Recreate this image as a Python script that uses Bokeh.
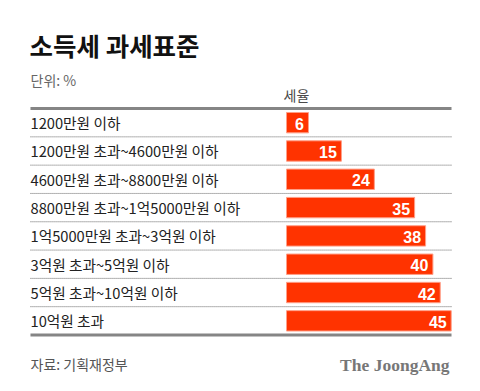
import numpy as np
from bokeh.plotting import figure
from bokeh.models import Range1d, Label, ColumnDataSource
from bokeh.core.properties import value
from bokeh.embed import file_html
from bokeh.resources import INLINE

title = "소득세 과세표준"
unit_text = "단위: %"
header = "세율"
source_text = "자료: 기획재정부"
brand = "The JoongAng"

brackets = [
    "1200만원 이하",
    "1200만원 초과~4600만원 이하",
    "4600만원 초과~8800만원 이하",
    "8800만원 초과~1억5000만원 이하",
    "1억5000만원 초과~3억원 이하",
    "3억원 초과~5억원 이하",
    "5억원 초과~10억원 이하",
    "10억원 초과",
]
rates = [6, 15, 24, 35, 38, 40, 42, 45]

n = len(brackets)
rows = np.arange(n) + 0.5

# layout constants (data extents of the table within a full-canvas frame)
X_START, X_END = -78.14, 53.0
Y_START, Y_END = -3.816, 9.996
X_LEFT, X_RIGHT = -69.95, 45.08

src = ColumnDataSource(dict(
    y=rows, rate=rates, label=brackets, txt=[str(r) for r in rates],
    left=[X_LEFT] * n,
))
sep = np.arange(1, n)
sep_src = ColumnDataSource(dict(y=sep, x0=[X_LEFT] * len(sep), x1=[X_RIGHT] * len(sep)))
edge_src = ColumnDataSource(dict(y=[0, n], x0=[X_LEFT] * 2, x1=[X_RIGHT] * 2))

W, H = 480, 391
p = figure(width=W, height=H, output_backend="svg", toolbar_location=None,
           x_range=Range1d(X_START, X_END), y_range=Range1d(Y_END, Y_START),
           x_axis_location=None, y_axis_location=None,
           min_border=0)
p.grid.visible = False
p.outline_line_color = None
p.background_fill_color = "white"
p.border_fill_color = "white"

p.segment(x0="x0", x1="x1", y0="y", y1="y", source=sep_src,
          line_color="#666666", line_width=1, line_dash="1 1")
p.segment(x0="x0", x1="x1", y0="y", y1="y", source=edge_src,
          line_color="#858585", line_width=3)

p.hbar(y="y", left=0, right="rate", height=0.72, source=src,
       fill_color="#ff3300", line_color="#ff9f88", line_width=1)

p.text(x="left", y="y", text="label", source=src,
       text_font=value("Noto Sans CJK KR"), text_font_size="14.7px",
       text_color="#222222", text_align="left", text_baseline="middle")

p.text(x="rate", y="y", text="txt", source=src, x_offset=-4.5, y_offset=1,
       text_font=value("Liberation Sans"), text_font_size="16px",
       text_font_style="bold", text_color="white",
       text_align="right", text_baseline="middle")

def lab(txt, x, y, size="14px", color="#555555", style="normal",
        font="Noto Sans CJK KR", align="left"):
    p.add_layout(Label(x=x, y=y, x_units="screen", y_units="screen", text=txt,
                       text_font=font, text_font_size=size, text_color=color,
                       text_font_style=style, text_align=align,
                       text_baseline="middle"))

lab(title, 29, 347, size="25.5px", color="#111111", style="bold")
lab(unit_text, 30, 311.5, color="#666666")
lab(header, 283, 297, color="#4a4a4a")
lab(source_text, 30, 28)
lab(brand, 449, 26.5, size="17.5px", color="#777777", style="bold",
    font="Liberation Serif", align="right")

open("out.html", "w").write(file_html(p, INLINE))
